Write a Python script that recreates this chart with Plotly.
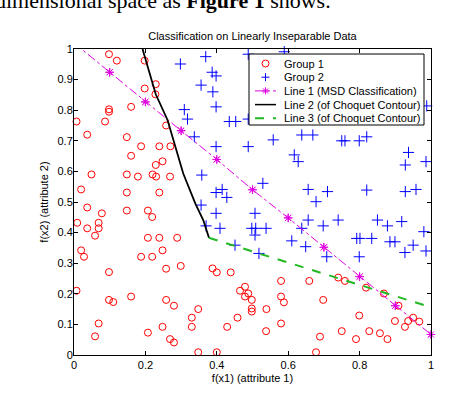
import plotly.graph_objects as go
import numpy as np

# ---------------- data ----------------
group1_x = [0.098, 0.120, 0.198, 0.229, 0.198, 0.228, 0.098, 0.098, 0.160, 0.007,
            0.087, 0.258, 0.037, 0.148, 0.188, 0.239, 0.270, 0.160, 0.248, 0.229,
            0.049, 0.148, 0.179, 0.220, 0.230, 0.269, 0.020, 0.148, 0.239,
            0.037, 0.078, 0.148, 0.207, 0.219, 0.009, 0.069, 0.037, 0.069, 0.059,
            0.207, 0.239, 0.289, 0.020, 0.028, 0.188, 0.219, 0.248, 0.258, 0.299,
            0.098, 0.007, 0.160, 0.098, 0.110, 0.258, 0.280, 0.330, 0.330, 0.069,
            0.059, 0.207, 0.248, 0.269, 0.280,
            0.348, 0.400, 0.538, 0.678, 0.689, 0.750, 0.790, 0.827, 0.857, 0.878,
            0.388, 0.400, 0.439, 0.580, 0.479, 0.465, 0.488, 0.479, 0.498, 0.580,
            0.588, 0.498, 0.498, 0.539, 0.348, 0.458, 0.429, 0.580, 0.659,
            0.698, 0.740, 0.759, 0.818, 0.868, 0.909, 0.799, 0.899, 0.927, 0.936,
            0.950, 0.967]
group1_y = [0.983, 0.962, 0.962, 0.885, 0.871, 0.852, 0.803, 0.795, 0.811, 0.763,
            0.763, 0.750, 0.720, 0.712, 0.682, 0.682, 0.682, 0.651, 0.633, 0.621,
            0.590, 0.590, 0.583, 0.590, 0.583, 0.583, 0.541, 0.531, 0.531,
            0.482, 0.463, 0.472, 0.472, 0.451, 0.432, 0.432, 0.414, 0.414, 0.390,
            0.383, 0.383, 0.383, 0.342, 0.321, 0.321, 0.321, 0.342, 0.282, 0.291,
            0.271, 0.210, 0.191, 0.180, 0.173, 0.180, 0.161, 0.122, 0.092, 0.103,
            0.061, 0.073, 0.092, 0.052, 0.041,
            0.009, 0.009, 0.078, 0.009, 0.060, 0.078, 0.052, 0.078, 0.071, 0.052,
            0.283, 0.270, 0.270, 0.242, 0.223, 0.210, 0.201, 0.191, 0.180, 0.191,
            0.172, 0.152, 0.142, 0.150, 0.150, 0.122, 0.092, 0.103, 0.242,
            0.180, 0.253, 0.242, 0.220, 0.201, 0.161, 0.129, 0.111, 0.092, 0.111,
            0.122, 0.109]

group2_x = [0.298, 0.309, 0.318, 0.337,
            0.369, 0.488, 0.589, 0.387, 0.398, 0.356, 0.389, 0.398, 0.435, 0.453,
            0.488, 0.398, 0.488, 0.558, 0.638, 0.617, 0.628, 0.358, 0.529, 0.398,
            0.415, 0.428, 0.656,
            0.356, 0.398, 0.507, 0.370, 0.409, 0.498, 0.509, 0.538, 0.507, 0.451,
            0.518, 0.610, 0.649, 0.638, 0.656,
            0.708, 0.799, 0.792, 0.801, 0.834, 0.885, 0.899, 0.950, 0.927, 0.986,
            0.669, 0.750, 0.759, 0.799, 0.820, 0.937, 0.928, 0.986, 0.710, 0.678,
            0.820, 0.928, 0.958, 0.698, 0.740, 0.850, 0.878, 0.918, 0.980, 0.988]
group2_y = [0.951, 0.802, 0.771, 0.713,
            0.975, 0.983, 0.991, 0.924, 0.912, 0.882, 0.860, 0.811, 0.763, 0.763,
            0.771, 0.681, 0.681, 0.703, 0.719, 0.654, 0.632, 0.588, 0.561, 0.531,
            0.541, 0.515, 0.541,
            0.490, 0.463, 0.463, 0.422, 0.414, 0.414, 0.414, 0.414, 0.392, 0.359,
            0.332, 0.373, 0.354, 0.414, 0.441,
            0.321, 0.321, 0.381, 0.381, 0.381, 0.370, 0.370, 0.359, 0.335, 0.340,
            0.719, 0.700, 0.700, 0.700, 0.713, 0.662, 0.621, 0.632, 0.534, 0.501,
            0.539, 0.534, 0.541, 0.422, 0.441, 0.441, 0.422, 0.436, 0.403, 0.814]

line1_x = [0.0, 0.1, 0.2, 0.3, 0.4, 0.5, 0.6, 0.7, 0.8, 0.9, 1.0]
line1_y = [1.02, 0.924, 0.827, 0.733, 0.639, 0.540, 0.448, 0.352, 0.256, 0.161, 0.067]

line2_x = [0.192, 0.229, 0.262, 0.306, 0.340, 0.362, 0.378]
line2_y = [1.0, 0.852, 0.768, 0.593, 0.495, 0.441, 0.383]

line3_x = [0.378, 1.0]
line3_y = [0.383, 0.156]

x_ticks = [0, 0.2, 0.4, 0.6, 0.8, 1]
x_tick_labels = ["0", "0.2", "0.4", "0.6", "0.8", "1"]
y_ticks = [0, 0.1, 0.2, 0.3, 0.4, 0.5, 0.6, 0.7, 0.8, 0.9, 1]
y_tick_labels = ["0", "0.1", "0.2", "0.3", "0.4", "0.5", "0.6", "0.7", "0.8", "0.9", "1"]

legend_labels = ["Group 1", "Group 2", "Line 1 (MSD Classification)",
                 "Line 2 (of Choquet Contour)", "Line 3 (of Choquet Contour)"]

FONT = "Liberation Sans, Arial, sans-serif"
MAGENTA = "#e000e0"
RED = "#ff0000"
BLUE = "#0000ff"
GREEN = "#22b822"

# layout geometry (pixels)
W, H = 474, 396
ML, MR, MT, MB = 74, 43, 49, 41
PW, PH = W - ML - MR, H - MT - MB


def px2x(px):
    return (px - ML) / PW


def py2y(py):
    return (H - MB - py) / PH


fig = go.Figure()

fig.add_trace(go.Scatter(
    x=group1_x, y=group1_y, mode="markers", name=legend_labels[0],
    marker=dict(symbol="circle-open", size=7, color=RED, line=dict(width=1)),
    cliponaxis=False))

fig.add_trace(go.Scatter(
    x=group2_x, y=group2_y, mode="markers", name=legend_labels[1],
    marker=dict(symbol="cross-thin-open", size=8, color=BLUE, line=dict(width=1, color=BLUE)),
    cliponaxis=False))

fig.add_trace(go.Scatter(
    x=line1_x, y=line1_y, mode="lines+markers", name=legend_labels[2],
    line=dict(color=MAGENTA, width=1, dash="dashdot"),
    marker=dict(symbol="asterisk-open", size=7, color=MAGENTA, line=dict(width=1, color=MAGENTA)),
    cliponaxis=True))

l1x = np.array(line1_x)
l1y = np.array(line1_y)
inside = l1y <= 1.0
fig.add_trace(go.Scatter(
    x=l1x[inside], y=l1y[inside], mode="markers",
    marker=dict(symbol="asterisk-open", size=7, color=MAGENTA, line=dict(width=1, color=MAGENTA)),
    cliponaxis=False))

fig.add_trace(go.Scatter(
    x=line2_x, y=line2_y, mode="lines", name=legend_labels[3],
    line=dict(color="#000000", width=1.8)))

fig.add_trace(go.Scatter(
    x=line3_x, y=line3_y, mode="lines", name=legend_labels[4],
    line=dict(color=GREEN, width=2, dash="dash")))

axis_common = dict(
    showgrid=False, zeroline=False, showline=True, linecolor="black", linewidth=1,
    mirror="ticks", ticks="inside", ticklen=4, tickcolor="black", tickwidth=1,
    tickfont=dict(family=FONT, size=11, color="black"),
)

fig.update_layout(
    width=W, height=H,
    margin=dict(l=ML, r=MR, t=MT, b=MB),
    paper_bgcolor="white", plot_bgcolor="white",
    font=dict(family=FONT, size=11, color="black"),
    showlegend=False,
    hovermode=False,
    title=dict(text="Classification on Linearly Inseparable Data",
               x=252.5 / W, xanchor="center", y=1 - 36 / H, yanchor="middle",
               yref="container", font=dict(family=FONT, size=11, color="black")),
    xaxis=dict(range=[0, 1], tickvals=x_ticks, ticktext=x_tick_labels,
               title=dict(text="f(x1) (attribute 1)", standoff=4,
                          font=dict(family=FONT, size=11, color="black")),
               **axis_common),
    yaxis=dict(range=[0, 1], tickvals=y_ticks, ticktext=y_tick_labels,
               ticklabelstandoff=-2,
               title=dict(text="f(x2) (attribute 2)", standoff=6,
                          font=dict(family=FONT, size=11, color="black")),
               **axis_common),
)

# ---------------- legend box drawn manually (MATLAB style) ----------------
box_l, box_r, box_t, box_b = 249, 424, 54, 125
row_y = [63.5, 77.2, 90.9, 104.6, 118.3]
sym_x = 265.5
line_x0, line_x1 = 255, 276
text_x = 281.5

shapes = [dict(type="rect", xref="paper", yref="paper", layer="above",
               x0=px2x(box_l), x1=px2x(box_r), y0=py2y(box_b), y1=py2y(box_t),
               fillcolor="white", line=dict(color="black", width=1))]

# Group 1: open circle
shapes.append(dict(type="circle", xref="paper", yref="paper", layer="above",
                   xsizemode="pixel", ysizemode="pixel",
                   xanchor=px2x(sym_x), yanchor=py2y(row_y[0]),
                   x0=-3.5, x1=3.5, y0=-3.5, y1=3.5,
                   line=dict(color=RED, width=1)))
# Group 2: plus
shapes.append(dict(type="path", xref="paper", yref="paper", layer="above",
                   xsizemode="pixel", ysizemode="pixel",
                   xanchor=px2x(sym_x), yanchor=py2y(row_y[1]),
                   path="M-4,0 L4,0 M0,-4 L0,4",
                   line=dict(color=BLUE, width=1)))
# Line 1: dash-dot magenta with asterisk
shapes.append(dict(type="line", xref="paper", yref="paper", layer="above",
                   x0=px2x(line_x0), x1=px2x(line_x1), y0=py2y(row_y[2]), y1=py2y(row_y[2]),
                   line=dict(color=MAGENTA, width=1, dash="dashdot")))
shapes.append(dict(type="path", xref="paper", yref="paper", layer="above",
                   xsizemode="pixel", ysizemode="pixel",
                   xanchor=px2x(sym_x), yanchor=py2y(row_y[2]),
                   path="M-3.5,0 L3.5,0 M0,-3.5 L0,3.5 M-2.5,-2.5 L2.5,2.5 M-2.5,2.5 L2.5,-2.5",
                   line=dict(color=MAGENTA, width=1)))
# Line 2: black solid
shapes.append(dict(type="line", xref="paper", yref="paper", layer="above",
                   x0=px2x(line_x0), x1=px2x(line_x1), y0=py2y(row_y[3]), y1=py2y(row_y[3]),
                   line=dict(color="black", width=1.5)))
# Line 3: green dashed
shapes.append(dict(type="line", xref="paper", yref="paper", layer="above",
                   x0=px2x(line_x0), x1=px2x(line_x1), y0=py2y(row_y[4]), y1=py2y(row_y[4]),
                   line=dict(color=GREEN, width=2, dash="dash")))

fig.update_layout(shapes=shapes)

for lab, ry in zip(legend_labels, row_y):
    fig.add_annotation(text=lab, xref="paper", yref="paper",
                       x=px2x(text_x), y=py2y(ry), xanchor="left", yanchor="middle",
                       showarrow=False, font=dict(family=FONT, size=11, color="black"))

# Cut-off body text line above the figure (as in the source page)
fig.add_annotation(
    text="dimensional space as <b>Figure 1</b> shows.",
    xref="paper", yref="paper", x=px2x(333), y=py2y(15),
    xanchor="right", yanchor="bottom", showarrow=False,
    font=dict(family="Liberation Serif, Times New Roman, serif", size=22, color="black"))

fig.write_html("out.html", config={"displayModeBar": False, "staticPlot": True},
               post_script="document.body.style.margin='0';")
